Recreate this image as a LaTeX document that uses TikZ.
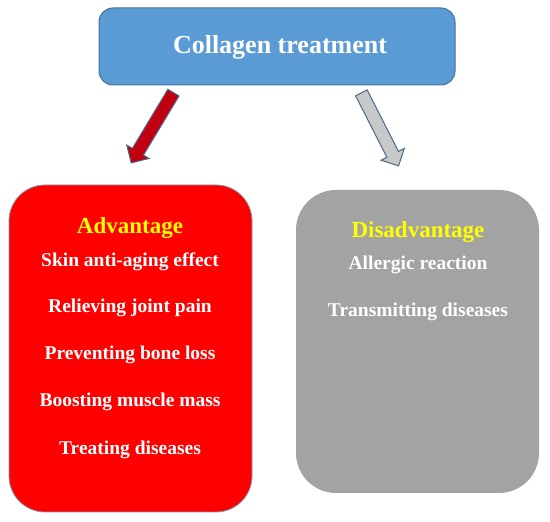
\documentclass[tikz,border=0pt]{standalone}
\usepackage{fontspec}
\setmainfont{Liberation Serif}
\usetikzlibrary{shapes.arrows}
\definecolor{topblue}{HTML}{5B9BD5}
\definecolor{topborder}{HTML}{41719C}
\definecolor{advred}{HTML}{FF0000}
\definecolor{disgray}{HTML}{A3A3A3}
\definecolor{arrred}{HTML}{C00010}
\definecolor{arrgray}{HTML}{C8C8C8}
\definecolor{arrborder}{HTML}{4A6A8A}
\definecolor{titleyellow}{HTML}{FFFF00}
\tikzset{
  panel/.style={rounded corners=36pt, inner sep=0pt},
  item/.style={text=white, font=\bfseries\fontsize{19.5}{22}\selectfont, anchor=center},
  heading/.style={text=titleyellow, font=\bfseries\fontsize{23}{26}\selectfont, anchor=center},
  blockarrow/.style={single arrow, draw=arrborder, line width=1pt, inner sep=6pt,
    single arrow head extend=6.5pt, single arrow tip angle=90, minimum height=82pt}
}
\begin{document}
\begin{tikzpicture}[x=1pt,y=1pt]
\useasboundingbox (0,0) rectangle (550,522);
% top box
\node[draw=topborder, line width=1pt, fill=topblue, rounded corners=14pt,
      minimum width=356pt, minimum height=77pt] (top) at (277,475.5) {};
\node[text=white, font=\bfseries\fontsize{26}{30}\selectfont] (toptext) at (280,475) {Collagen treatment};
% panels
\node[panel, draw=arrborder!70, line width=0.8pt, fill=advred, minimum width=243pt, minimum height=327pt] (adv) at (130.5,173.5) {};
\node[panel, fill=disgray, rounded corners=40pt, minimum width=243pt, minimum height=303pt] (dis) at (417.5,180.5) {};
% arrows
\node[blockarrow, fill=arrred, rotate=239] (arrL) at (154,397) {};
\node[blockarrow, fill=arrgray, rotate=-63] (arrR) at (378.5,395.5) {};
% advantage texts
\node[heading] (advh) at (130,294) {Advantage};
\node[item] (a1) at (130,260) {Skin anti-aging effect};
\node[item] (a2) at (130,214) {Relieving joint pain};
\node[item] (a3) at (130,167) {Preventing bone loss};
\node[item] (a4) at (130,120) {Boosting muscle mass};
\node[item] (a5) at (130,72) {Treating diseases};
% disadvantage texts
\node[heading] (dish) at (418,290) {Disadvantage};
\node[item] (d1) at (418,257) {Allergic reaction};
\node[item] (d2) at (418,210) {Transmitting diseases};
\end{tikzpicture}
\end{document}
